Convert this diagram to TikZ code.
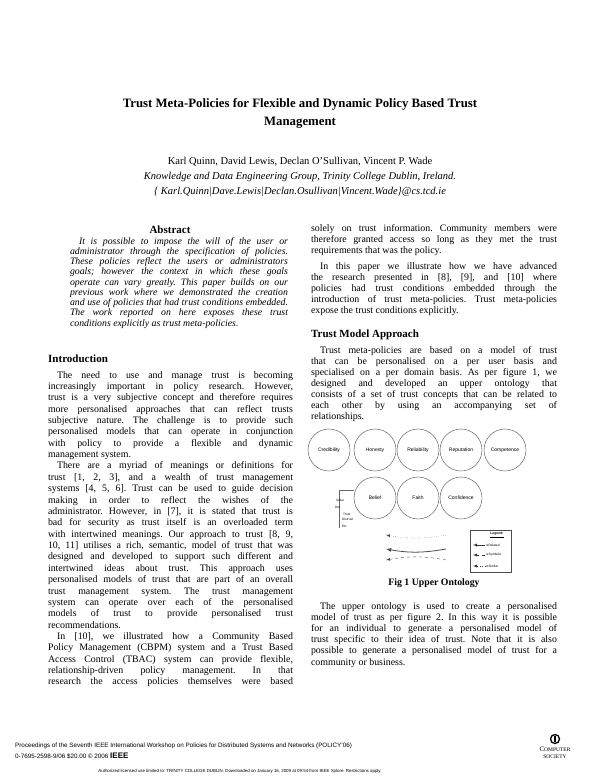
\documentclass[tikz,border=0pt]{standalone}
\usepackage{fontspec}
\setmainfont{Liberation Serif}
\setsansfont{Liberation Sans}
\newcommand\JL[1]{\hbox to \colw{#1}}
\newcommand\LL[1]{\hbox to \colw{#1\hfil}}
\newcommand\IN{\hspace*{9pt}}
\newdimen\colw
\frenchspacing
\tikzset{blk/.style={anchor=base west,inner sep=0pt,outer sep=0pt},
 circ/.style={draw=black!70,circle,minimum size=42pt,inner sep=0pt,font=\sffamily\fontsize{5}{5.5}\selectfont},
 tiny/.style={inner sep=0pt,font=\sffamily\fontsize{3.2}{3.5}\selectfont,anchor=west},
 head/.style={inner sep=0pt,font=\bfseries\fontsize{11}{12}\selectfont,anchor=base west}}
\begin{document}
\begin{tikzpicture}[x=1pt,y=-1pt]
\useasboundingbox (0,0) rectangle (600,776);
\fill[white] (0,0) rectangle (600,776);
% title
\node[inner sep=0pt,anchor=base] (t1) at (300,107) {\bfseries\fontsize{12.8}{14}\selectfont Trust Meta-Policies for Flexible and Dynamic Policy Based Trust};
\node[inner sep=0pt,anchor=base] (t2) at (300,125) {\bfseries\fontsize{12.8}{14}\selectfont Management};
\node[inner sep=0pt,anchor=base] (a1) at (300,164) {\fontsize{10.5}{12}\selectfont Karl Quinn, David Lewis, Declan O'Sullivan, Vincent P. Wade};
\node[inner sep=0pt,anchor=base] (a2) at (300,179) {\itshape\fontsize{10.5}{12}\selectfont Knowledge and Data Engineering Group, Trinity College Dublin, Ireland.};
\node[inner sep=0pt,anchor=base] (a3) at (300,194) {\itshape\fontsize{10.5}{12}\selectfont \{ Karl.Quinn|Dave.Lewis|Declan.Osullivan|Vincent.Wade\}@cs.tcd.ie};
% abstract
\node[inner sep=0pt,anchor=base] (abh) at (170,233) {\bfseries\fontsize{11}{12}\selectfont Abstract};
\node[blk] (abs) at (70,244) {\colw=218pt\itshape\fontsize{9.8}{10.25}\selectfont\vtop{
\JL{\IN It is possible to impose the will of the user or}
\JL{administrator through the specification of policies.}
\JL{These policies reflect the users or administrators}
\JL{goals; however the context in which these goals}
\JL{operate can vary greatly. This paper builds on our}
\JL{previous work where we demonstrated the creation}
\JL{and use of policies that had trust conditions embedded.}
\JL{The work reported on here exposes these trust}
\LL{conditions explicitly as trust meta-policies.}}};
\node[head] (inh) at (48,362) {Introduction};
\node[blk] (intro) at (48,378) {\colw=245pt\fontsize{9.9}{11.37}\selectfont\vtop{
\JL{\IN The need to use and manage trust is becoming}
\JL{increasingly important in policy research. However,}
\JL{trust is a very subjective concept and therefore requires}
\JL{more personalised approaches that can reflect trusts}
\JL{subjective nature. The challenge is to provide such}
\JL{personalised models that can operate in conjunction}
\JL{with policy to provide a flexible and dynamic}
\LL{management system.}
\JL{\IN There are a myriad of meanings or definitions for}
\JL{trust [1, 2, 3], and a wealth of trust management}
\JL{systems [4, 5, 6]. Trust can be used to guide decision}
\JL{making in order to reflect the wishes of the}
\JL{administrator. However, in [7], it is stated that trust is}
\JL{bad for security as trust itself is an overloaded term}
\JL{with intertwined meanings. Our approach to trust [8, 9,}
\JL{10, 11] utilises a rich, semantic, model of trust that was}
\JL{designed and developed to support such different and}
\JL{intertwined ideas about trust. This approach uses}
\JL{personalised models of trust that are part of an overall}
\JL{trust management system. The trust management}
\JL{system can operate over each of the personalised}
\JL{models of trust to provide personalised trust}
\LL{recommendations.}
\JL{\IN In [10], we illustrated how a Community Based}
\JL{Policy Management (CBPM) system and a Trust Based}
\JL{Access Control (TBAC) system can provide flexible,}
\JL{relationship-driven policy management. In that}
\JL{research the access policies themselves were based}}};
% right column
\node[blk] (r1) at (311,231) {\colw=246pt\fontsize{9.9}{11.2}\selectfont\vtop{
\JL{solely on trust information. Community members were}
\JL{therefore granted access so long as they met the trust}
\LL{requirements that was the policy.}}};
\node[blk] (r2) at (311,269) {\colw=246pt\fontsize{9.9}{11.2}\selectfont\vtop{
\JL{\IN In this paper we illustrate how we have advanced}
\JL{the research presented in [8], [9], and [10] where}
\JL{policies had trust conditions embedded through the}
\JL{introduction of trust meta-policies. Trust meta-policies}
\LL{expose the trust conditions explicitly.}}};
\node[head] (tmh) at (311,337) {Trust Model Approach};
\node[blk] (r3) at (311,353) {\colw=246pt\fontsize{9.9}{11.1}\selectfont\vtop{
\JL{\IN Trust meta-policies are based on a model of trust}
\JL{that can be personalised on a per user basis and}
\JL{specialised on a per domain basis. As per figure 1, we}
\JL{designed and developed an upper ontology that}
\JL{consists of a set of trust concepts that can be related to}
\JL{each other by using an accompanying set of}
\LL{relationships.}}};
% figure
\node[circ] (c1) at (329,450) {Credibility};
\node[circ] (c2) at (375,450) {Honesty};
\node[circ] (c3) at (418,450) {Reliability};
\node[circ] (c4) at (461,450) {Reputation};
\node[circ] (c5) at (505,450) {Competence};
\node[circ] (c6) at (375,498) {Belief};
\node[circ] (c7) at (418,498) {Faith};
\node[circ] (c8) at (461,498) {Confidence};
\coordinate (b1) at (339,490);
\coordinate (b2) at (339,528);
\draw[black!60,line width=0.4pt] (c6.west |- b1) -- (b1) -- (b2);
\node[tiny] (v1) at (336,500) {Value};
\node[tiny] (v2) at (335,507) {Dm};
\node[tiny] (v3) at (343,514) {Trust};
\node[tiny] (v4) at (342,519) {Distrust};
\node[tiny] (v5) at (342,526) {Etc};
\coordinate (p1) at (446,535); \coordinate (p2) at (386,535);
\coordinate (q1) at (446,549); \coordinate (q2) at (386,549);
\coordinate (s1) at (446,560); \coordinate (s2) at (386,560);
\draw[dotted,black!70,-latex] (p1) to[bend left=10] (p2);
\draw[black!70,line width=0.8pt,-latex] (q1) to[bend left=10] (q2);
\draw[dashed,black!70,-latex] (s1) to[bend right=10] (s2);
\node[draw=black!70,minimum width=41pt,minimum height=42pt,inner sep=0pt] (leg) at (490.5,551) {};
\node[inner sep=0pt,font=\sffamily\bfseries\fontsize{3.4}{4}\selectfont] (lt) at (497,535) {\underline{Legend:}};
\coordinate (l1a) at (485,545); \coordinate (l1b) at (473,545);
\coordinate (l2a) at (485,555); \coordinate (l2b) at (473,555);
\coordinate (l3a) at (485,566); \coordinate (l3b) at (473,566);
\draw[-latex,black!80] (l1a) -- (l1b);
\draw[-latex,black!80,dashed] (l2a) -- (l2b);
\draw[-latex,black!80,dotted] (l3a) -- (l3b);
\node[tiny] (lx1) at (486,545) {isRelated};
\node[tiny] (lx2) at (486,555) {isSymbolic};
\node[tiny] (lx3) at (486,566) {isSimilar};
\node[inner sep=0pt,anchor=base] (cap) at (434,585) {\bfseries\fontsize{9.8}{11}\selectfont Fig 1 Upper Ontology};
\node[blk] (r4) at (311,609) {\colw=246pt\fontsize{9.9}{11.2}\selectfont\vtop{
\JL{\IN The upper ontology is used to create a personalised}
\JL{model of trust as per figure 2. In this way it is possible}
\JL{for an individual to generate a personalised model of}
\JL{trust specific to their idea of trust. Note that it is also}
\JL{possible to generate a personalised model of trust for a}
\LL{community or business.}}};
% footer
\node[inner sep=0pt,anchor=base west] (f1) at (15,747) {\sffamily\fontsize{6.3}{7}\selectfont Proceedings of the Seventh IEEE International Workshop on Policies for Distributed Systems and Networks (POLICY'06)};
\node[inner sep=0pt,anchor=base west] (f2) at (15,758) {\sffamily\fontsize{6.3}{7}\selectfont 0-7695-2598-9/06 \$20.00 © 2006 {\bfseries\fontsize{8}{9}\selectfont IEEE}};
\node[inner sep=0pt,anchor=base] (f3) at (240,772) {\sffamily\fontsize{4.4}{5}\selectfont Authorized licensed use limited to: TRINITY COLLEGE DUBLIN. Downloaded on January 16, 2009 at 09:54 from IEEE Xplore.  Restrictions apply.};
\node[draw,circle,line width=1.3pt,minimum size=9pt,inner sep=0pt] (logo) at (555,739) {};
\draw[line width=1.3pt] ([yshift=-2pt]logo.north) -- ([yshift=2pt]logo.south);
\node[inner sep=0pt,anchor=base] (cs1) at (555,751) {\fontsize{7}{8}\selectfont C{\fontsize{5.5}{6}\selectfont OMPUTER}};
\node[inner sep=0pt,anchor=base] (cs2) at (555,758) {\fontsize{5.5}{6}\selectfont SOCIETY};
\end{tikzpicture}
\end{document}
